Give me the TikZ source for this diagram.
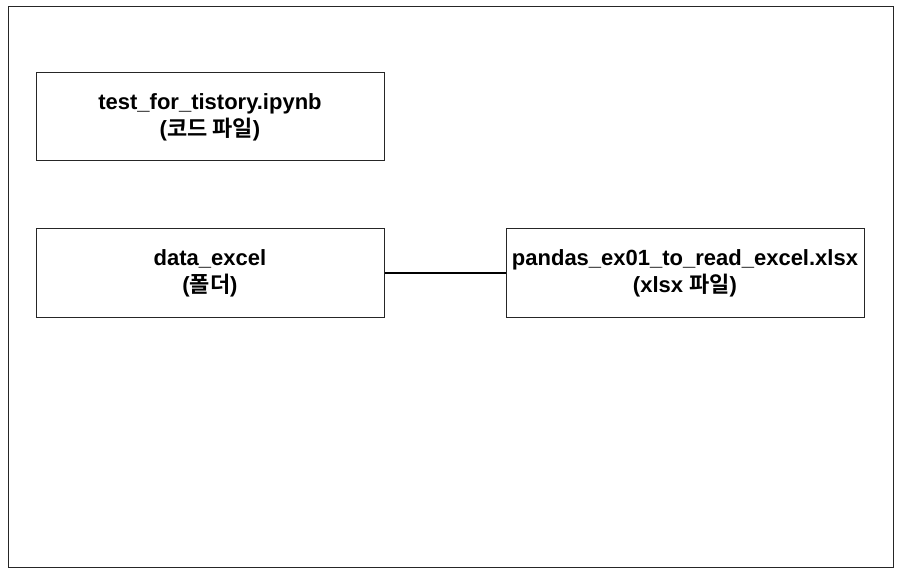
\documentclass[tikz,border=0pt]{standalone}
\usepackage{fontspec}
\setmainfont{Liberation Sans}
\newfontfamily\kr{Noto Sans CJK KR}[BoldFont={* Bold}]
\begin{document}
\begin{tikzpicture}[x=1pt,y=-1pt,
  box/.style={draw=black!85, line width=1pt, fill=white, align=center, inner sep=0pt,
    font=\fontsize{22}{27}\selectfont\bfseries},
  frame/.style={draw=black!85, line width=1pt}]
\useasboundingbox (0,0) rectangle (902,580);
\draw[frame] (8,6.5) rectangle (893,567.5);
\node[box, minimum width=348pt, minimum height=88pt] (code) at (210,117) {test\_for\_tistory.ipynb\\({\kr 코드 파일})};
\node[box, minimum width=348pt, minimum height=88pt] (folder) at (210,273) {data\_excel\\({\kr 폴더})};
\node[box, minimum width=358pt, minimum height=88pt] (xlsx) at (685,273) {pandas\_ex01\_to\_read\_excel.xlsx\\(xlsx {\kr 파일})};
\draw[line width=1.5pt] (folder.east) -- (xlsx.west);
\end{tikzpicture}
\end{document}
